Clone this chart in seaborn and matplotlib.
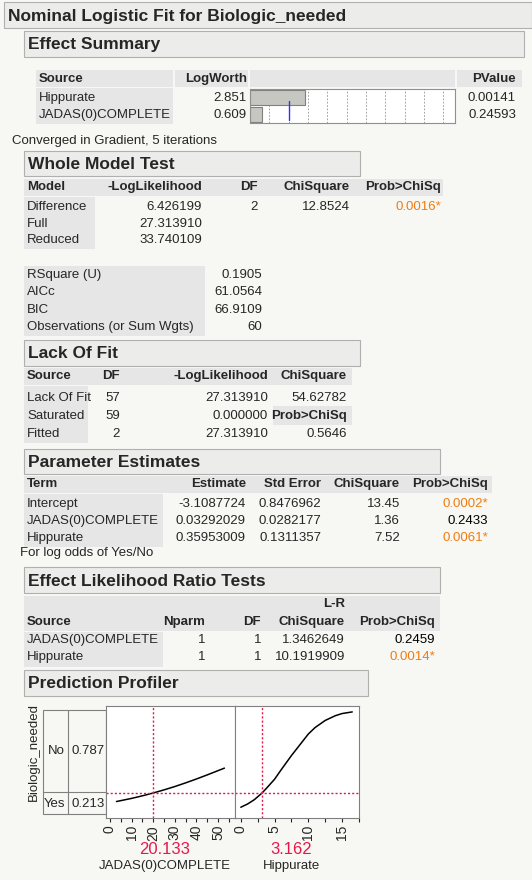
import matplotlib
matplotlib.use("Agg")
import matplotlib.pyplot as plt
import seaborn as sns
from matplotlib.patches import Rectangle

sns.set_style("white")
plt.rcParams['font.family'] = ['Liberation Sans', 'DejaVu Sans']

# effect summary
es_source = ['Hippurate', 'JADAS(0)COMPLETE']
es_logworth = [2.851, 0.609]
es_pvalue = ['0.00141', '0.24593']

# profiler curves
jadas_x = [3, 10, 15, 20, 25, 30, 35, 40, 45, 53]
jadas_p = [0.133, 0.162, 0.186, 0.212, 0.241, 0.272, 0.306, 0.342, 0.380, 0.443]
hipp_x = [0, 1, 2, 3.162, 4, 5, 6, 7.5, 8.5, 10, 11, 12.5, 14, 15, 16.5]
hipp_p = [0.08, 0.11, 0.15, 0.213, 0.27, 0.34, 0.43, 0.56, 0.64, 0.76, 0.82, 0.886, 0.93, 0.95, 0.965]
jadas_cur, hipp_cur = 20.133, 3.162

ORANGE = '#f07c10'
RED = '#e8174a'
GREY = '#e6e6e6'
BG = '#f7f7f4'

fig = plt.figure(figsize=(5.32, 8.8), dpi=100, facecolor=BG)
ax = fig.add_axes([0, 0, 1, 1])
ax.set_xlim(0, 532)
ax.set_ylim(880, 0)
ax.axis('off')


def T(x, y, s, ha='left', size=9.5, **kw):
    ax.text(x, y, s, ha=ha, va='center', size=size, **kw)


def box(x0, y0, x1, y1, fc=GREY, ec='none', lw=0.8):
    ax.add_patch(Rectangle((x0, y0), x1 - x0, y1 - y0, fc=fc, ec=ec, lw=lw))


def header(x0, y0, x1, y1, s, size=12.5):
    box(x0, y0, x1, y1, fc='#ececea', ec='#b0b0b0')
    T(x0 + 4, (y0 + y1) / 2 + 1, s, size=size, weight='bold')


header(4, 2, 532, 28, 'Nominal Logistic Fit for Biologic_needed', size=12.5)
header(24, 31, 524, 57, 'Effect Summary')

# effect summary table
box(36, 70, 173, 87)
box(175, 70, 248, 87)
box(250, 70, 455, 87)
box(457, 70, 522, 87)
box(36, 88, 173, 124)
T(39, 79, 'Source', weight='bold')
T(247, 79, 'LogWorth', ha='right', weight='bold')
T(516, 79, 'PValue', ha='right', weight='bold')
for i, (s, lw_, p) in enumerate(zip(es_source, es_logworth, es_pvalue)):
    y = 98 + i * 17
    T(39, y, s)
    T(247, y, f'{lw_:.3f}', ha='right')
    T(516, y, p, ha='right')

bx = fig.add_axes([250 / 532, 1 - 123 / 880, 205 / 532, 34 / 880])
sns.barplot(x=es_logworth, y=es_source, orient='h', color='#c8c8c0',
            edgecolor='#808080', linewidth=0.8, width=0.85, ax=bx)
bx.set_xlim(0, 10.6)
for v in range(1, 11):
    bx.axvline(v, color='#909090', ls=(0, (2, 2)), lw=0.6, zorder=0)
bx.axvline(2, ymin=0.1, ymax=0.65, color='#3030ff', lw=1, zorder=5)
bx.set_xticks([])
bx.set_yticks([])
bx.set_xlabel('')
bx.set_ylabel('')
bx.set_facecolor('white')
for sp in bx.spines.values():
    sp.set_color('#909090')
    sp.set_linewidth(0.8)

T(12, 141, 'Converged in Gradient, 5 iterations')

# whole model test
header(24, 151, 360, 176, 'Whole Model Test')
box(24, 179, 443, 196)
box(24, 197, 95, 249)
for x, s, ha in [(27, 'Model', 'left'), (202, '-LogLikelihood', 'right'), (258, 'DF', 'right'),
                 (350, 'ChiSquare', 'right'), (441, 'Prob>ChiSq', 'right')]:
    T(x, 187, s, ha=ha, weight='bold')
T(27, 207, 'Difference'); T(202, 207, '6.426199', ha='right'); T(258, 207, '2', ha='right')
T(350, 207, '12.8524', ha='right'); T(441, 207, '0.0016*', ha='right', color=ORANGE)
T(27, 224, 'Full'); T(202, 224, '27.313910', ha='right')
T(27, 240, 'Reduced'); T(202, 240, '33.740109', ha='right')

box(24, 266, 205, 336)
for i, (s, v) in enumerate([('RSquare (U)', '0.1905'), ('AICc', '61.0564'), ('BIC', '66.9109'),
                            ('Observations (or Sum Wgts)', '60')]):
    y = 275 + i * 17.3
    T(27, y, s)
    T(262, y, v, ha='right')

# lack of fit
header(24, 340, 360, 366, 'Lack Of Fit')
box(24, 368, 352, 385)
box(24, 386, 88, 443)
box(273, 406, 352, 425)
for x, s, ha in [(27, 'Source', 'left'), (120, 'DF', 'right'), (268, '-LogLikelihood', 'right'),
                 (347, 'ChiSquare', 'right')]:
    T(x, 376, s, ha=ha, weight='bold')
lof = [('Lack Of Fit', '57', '27.313910', '54.62782'), ('Saturated', '59', '0.000000', None),
       ('Fitted', '2', '27.313910', '0.5646')]
for i, (a, b, c, d) in enumerate(lof):
    y = 398 + i * 18
    T(27, y, a); T(120, y, b, ha='right'); T(268, y, c, ha='right')
    if d:
        T(347, y, d, ha='right')
T(347, 416, 'Prob>ChiSq', ha='right', weight='bold')

# parameter estimates
header(24, 449, 440, 474, 'Parameter Estimates')
box(24, 476, 492, 493)
box(24, 494, 163, 547)
for x, s, ha in [(27, 'Term', 'left'), (246, 'Estimate', 'right'), (321, 'Std Error', 'right'),
                 (400, 'ChiSquare', 'right'), (488, 'Prob>ChiSq', 'right')]:
    T(x, 484, s, ha=ha, weight='bold')
pe = [('Intercept', '-3.1087724', '0.8476962', '13.45', '0.0002*', ORANGE),
      ('JADAS(0)COMPLETE', '0.03292029', '0.0282177', '1.36', '0.2433', 'black'),
      ('Hippurate', '0.35953009', '0.1311357', '7.52', '0.0061*', ORANGE)]
for i, (a, b, c, d, e, col) in enumerate(pe):
    y = 504 + i * 17
    T(27, y, a); T(246, y, b, ha='right'); T(321, y, c, ha='right')
    T(400, y, d, ha='right'); T(488, y, e, ha='right', color=col)
T(20, 553, 'For log odds of Yes/No')

# effect likelihood ratio tests
header(24, 567, 440, 593, 'Effect Likelihood Ratio Tests')
box(24, 596, 440, 631)
box(24, 632, 163, 667)
T(345, 604, 'L-R', ha='right', weight='bold')
for x, s, ha in [(27, 'Source', 'left'), (205, 'Nparm', 'right'), (261, 'DF', 'right'),
                 (345, 'ChiSquare', 'right'), (435, 'Prob>ChiSq', 'right')]:
    T(x, 622, s, ha=ha, weight='bold')
lr = [('JADAS(0)COMPLETE', '1', '1', '1.3462649', '0.2459', 'black'),
      ('Hippurate', '1', '1', '10.1919909', '0.0014*', ORANGE)]
for i, (a, b, c, d, e, col) in enumerate(lr):
    y = 640 + i * 17
    T(27, y, a); T(205, y, b, ha='right'); T(261, y, c, ha='right')
    T(345, y, d, ha='right'); T(435, y, e, ha='right', color=col)

# prediction profiler
header(24, 670, 368, 696, 'Prediction Profiler')
box(43, 710, 106, 814, fc='#f7f7f4', ec='#808080')
ax.plot([68, 68], [710, 814], color='#808080', lw=0.8)
ax.plot([43, 106], [792, 792], color='#808080', lw=0.8)
T(65, 751, 'No', ha='right'); T(71, 751, '0.787')
T(65, 804, 'Yes', ha='right'); T(71, 804, '0.213')
T(34, 752, 'Biologic_needed', ha='center', rotation=90)

panels = [(106, 235, jadas_x, jadas_p, jadas_cur, (-1.85, 57.9), [0, 10, 20, 30, 40, 50], 5,
           'JADAS(0)COMPLETE', '20.133'),
          (235, 359, hipp_x, hipp_p, hipp_cur, (-0.86, 17.0), [0, 5, 10, 15], 2.5,
           'Hippurate', '3.162')]
for x0, x1, xs, ps, cur, xl, ticks, minor, name, curtxt in panels:
    pa = fig.add_axes([x0 / 532, 1 - 818 / 880, (x1 - x0) / 532, 112 / 880])
    sns.lineplot(x=xs, y=ps, color='black', lw=1.1, ax=pa)
    pa.axvline(cur, color=RED, ls=(0, (1.5, 1.5)), lw=1)
    pa.axhline(0.213, color=RED, ls=(0, (1.5, 1.5)), lw=1)
    pa.set_xlim(*xl)
    pa.set_ylim(-0.02, 1.02)
    pa.set_yticks([])
    pa.set_xticks(ticks)
    pa.set_xticks([t + minor for t in ticks], minor=True)
    pa.set_xticklabels([str(t) for t in ticks], rotation=90, size=10)
    pa.tick_params(axis='x', which='both', direction='out', bottom=True, length=3, width=0.8, pad=2)
    pa.set_facecolor('white')
    for sp in pa.spines.values():
        sp.set_color('#808080')
        sp.set_linewidth(0.8)
    cx = (x0 + x1) / 2
    T(cx - 6, 850, curtxt, ha='center', size=12, color=RED)
    T(cx - 6, 866, name, ha='center')

fig.savefig('out.png', dpi=100, facecolor=BG)
